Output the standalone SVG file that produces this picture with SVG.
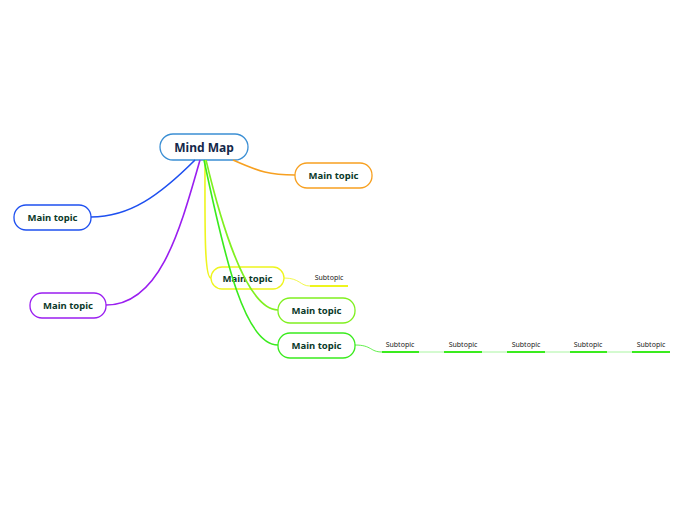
<svg xmlns="http://www.w3.org/2000/svg" width="696" height="520" viewBox="0 0 696 520">
<style>
.n{fill:#fff;stroke-width:1.3}
.t{font-family:"Noto Sans","Open Sans",sans-serif;font-weight:bold;font-size:9.5px;fill:#0c3a2a;text-anchor:middle}
.s{font-family:"Noto Sans","Open Sans",sans-serif;font-size:7px;fill:#222;text-anchor:middle}
.c{fill:none;stroke-width:1.6}
</style>
<rect width="696" height="520" fill="#fff"/>
<g id="root"><rect class="n" x="160" y="134" width="88" height="26" rx="13" stroke="#3b8fd4"/><text x="204" y="152" class="t" style="font-size:12px;fill:#14284a">Mind Map</text></g>
<g id="n-orange"><rect class="n" x="295" y="163" width="77" height="25" rx="12" stroke="#f7a020"/><text x="333.5" y="179" class="t">Main topic</text></g>
<g id="n-blue"><rect class="n" x="14" y="205" width="77" height="25" rx="12" stroke="#1e50f0"/><text x="52.5" y="221" class="t">Main topic</text></g>
<g id="n-purple"><rect class="n" x="30" y="293" width="76" height="25" rx="12" stroke="#9a1ef0"/><text x="68" y="309" class="t">Main topic</text></g>
<g id="n-yellow"><rect class="n" x="211" y="267" width="73" height="22" rx="11" stroke="#eef51e"/><text x="247.5" y="282" class="t">Main topic</text></g>
<g id="n-lgreen"><rect class="n" x="278" y="298" width="77" height="25" rx="12" stroke="#80f020"/><text x="316.5" y="314" class="t">Main topic</text></g>
<g id="n-green"><rect class="n" x="278" y="333" width="77" height="25" rx="12" stroke="#3aeb1e"/><text x="316.5" y="349" class="t">Main topic</text></g>
<g id="subtopics">
<text x="329" y="280" class="s">Subtopic</text>
<text x="400" y="347" class="s">Subtopic</text>
<text x="463" y="347" class="s">Subtopic</text>
<text x="526" y="347" class="s">Subtopic</text>
<text x="588" y="347" class="s">Subtopic</text>
<text x="651" y="347" class="s">Subtopic</text>
</g>
<g id="connectors">
<path class="c" stroke="#f7a020" d="M233,160 C260,172 270,175 295,175"/>
<path class="c" stroke="#1e50f0" d="M195,160 C160,195 130,217 91,217"/>
<path class="c" stroke="#9a1ef0" d="M200,160 C180,230 160,305 106,305"/>
<path class="c" stroke="#eef51e" d="M205,160 C205,220 204,278 211,278"/>
<path class="c" stroke="#80f020" d="M206,160 C225,240 250,310 278,310"/>
<path class="c" stroke="#3aeb1e" stroke-width="2" d="M204,160 C225,260 245,345 278,345"/>
<path fill="none" stroke="#eef51e" stroke-width="0.8" d="M284,278 C300,278 300,286 310,286"/>
<path stroke="#eef51e" stroke-width="2" d="M310,286 H348"/>
<path fill="none" stroke="#3aeb1e" stroke-width="0.8" d="M355,345 C372,345 370,352 382,352"/>
<path stroke="#a8f5a0" stroke-width="1" d="M382,352 H670"/>
<path stroke="#3aeb1e" stroke-width="2" d="M382,352 H419 M444,352 H482 M507,352 H545 M570,352 H607 M632,352 H670"/>
</g>
</svg>
